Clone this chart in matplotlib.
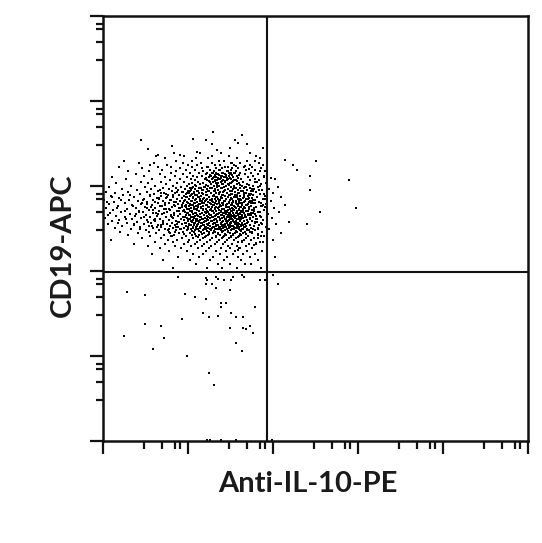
import numpy as np
from matplotlib import pyplot as plt

# Channel values (85 channels per decade, 5 decades)
decades = 5
channelsPerDecade = 85
minorSteps = [3, 5, 7, 8]
xLabel = "Anti-IL-10-PE"
yLabel = "CD19-APC"
gateX = 164
gateY = 169

# Upper population, row by row: CD19 channel, then the IL-10 channels in that row
blobY = [288, 285, 283, 280, 278, 276, 274, 273, 271, 270, 268, 267, 265, 264, 262, 261, 259, 258, 257, 255,
         254, 253, 252, 251, 250, 249, 248, 247, 246, 245, 244, 243, 242, 241, 240, 239, 238, 237, 236, 235,
         234, 233, 232, 231, 230, 229, 228, 227, 226, 225, 224, 223, 222, 221, 220, 219, 218, 217, 216, 215,
         214, 213, 212, 211, 209, 208, 206, 205, 203, 201, 199, 197, 195, 193, 190, 187, 184, 181, 177, 173]
blobX = [
    [71, 97, 118, 147],
    [53, 81, 109, 126, 153],
    [62, 93, 105, 134, 157],
    [21, 73, 89, 116, 121, 144, 152],
    [36, 51, 80, 98, 109, 128, 137, 156],
    [47, 64, 85, 94, 112, 117, 131, 147, 160],
    [16, 55, 68, 89, 104, 105, 122, 125, 141, 149],
    [39, 77, 99, 113, 119, 129, 135, 158],
    [59, 83, 92, 107, 116, 117, 128, 143, 152],
    [25, 46, 73, 100, 111, 124, 125, 133, 162],
    [68, 87, 96, 109, 110, 119, 131, 137, 148],
    [33, 57, 80, 103, 114, 115, 122, 127, 142, 155],
    [41, 72, 90, 99, 108, 118, 119, 126, 134, 150],
    [9, 62, 84, 94, 106, 111, 113, 121, 123, 130, 145, 161],
    [23, 49, 77, 88, 102, 109, 116, 117, 125, 128, 138, 172],
    [67, 92, 104, 112, 114, 120, 124, 131, 133, 147, 156],
    [38, 58, 81, 95, 107, 110, 118, 122, 129, 140, 152],
    [13, 45, 74, 89, 100, 113, 115, 127, 128, 136, 163],
    [63, 86, 97, 108, 119, 120, 125, 134, 144, 158],
    [28, 52, 70, 84, 93, 105, 111, 116, 123, 131, 139, 150],
    [6, 42, 78, 90, 101, 102, 114, 121, 128, 142, 155, 175],
    [60, 73, 87, 96, 109, 118, 119, 133, 137, 147],
    [19, 48, 66, 82, 92, 104, 112, 125, 130, 151, 166],
    [34, 75, 88, 99, 100, 115, 122, 135, 144, 159],
    [55, 69, 85, 94, 106, 111, 127, 139, 140, 148],
    [3, 25, 44, 79, 91, 103, 117, 120, 132, 153],
    [12, 61, 72, 86, 96, 108, 113, 124, 136, 143, 170],
    [37, 51, 83, 89, 100, 116, 128, 129, 146, 157],
    [20, 65, 76, 92, 93, 104, 119, 126, 134, 141, 150],
    [8, 47, 58, 81, 87, 98, 110, 111, 122, 137, 145, 162],
    [31, 70, 84, 95, 106, 114, 125, 131, 132, 154, 178],
    [16, 54, 63, 79, 90, 101, 118, 119, 128, 140, 149],
    [41, 74, 86, 97, 109, 112, 123, 135, 143, 144, 160],
    [1, 26, 50, 68, 82, 92, 103, 107, 117, 127, 138, 152],
    [35, 60, 77, 88, 89, 99, 113, 121, 122, 133, 147, 168],
    [11, 44, 71, 84, 94, 105, 110, 126, 130, 141, 156],
    [22, 55, 66, 80, 91, 101, 116, 119, 129, 136, 137, 150],
    [6, 38, 75, 87, 96, 97, 108, 114, 124, 134, 145, 163],
    [29, 49, 62, 83, 90, 104, 111, 120, 128, 139, 143, 182],
    [15, 57, 72, 86, 93, 100, 117, 118, 131, 135, 148, 158],
    [42, 69, 79, 95, 106, 109, 123, 126, 137, 146, 153],
    [3, 33, 52, 76, 88, 98, 112, 115, 129, 133, 142, 171],
    [24, 61, 84, 91, 92, 103, 119, 121, 127, 140, 151],
    [10, 46, 67, 81, 94, 100, 107, 116, 125, 131, 136, 149, 161],
    [36, 56, 74, 87, 96, 110, 113, 122, 128, 138, 144, 145],
    [18, 40, 64, 82, 89, 102, 105, 118, 124, 134, 139, 155, 176],
    [7, 50, 71, 85, 93, 99, 111, 120, 127, 130, 141, 148],
    [27, 59, 77, 90, 97, 106, 114, 115, 123, 135, 137, 152, 165],
    [43, 68, 83, 86, 101, 108, 118, 126, 131, 142, 146],
    [13, 32, 54, 75, 92, 95, 104, 112, 121, 129, 133, 139, 157],
    [22, 47, 63, 80, 88, 98, 109, 116, 124, 125, 136, 143, 150],
    [2, 38, 70, 84, 91, 102, 107, 119, 128, 132, 140, 147, 169],
    [29, 57, 78, 87, 94, 100, 113, 122, 127, 134, 138, 154],
    [16, 44, 66, 81, 90, 97, 105, 111, 117, 126, 130, 144, 160],
    [9, 52, 73, 85, 93, 103, 109, 120, 123, 133, 137, 141, 149],
    [34, 60, 76, 89, 96, 101, 114, 119, 128, 131, 145, 152, 186],
    [24, 48, 69, 82, 92, 99, 106, 112, 124, 127, 135, 139, 158],
    [5, 41, 64, 79, 86, 95, 104, 110, 118, 122, 132, 136, 142, 173],
    [31, 55, 72, 88, 91, 101, 115, 121, 125, 134, 140, 147, 156],
    [19, 46, 67, 83, 94, 98, 107, 113, 119, 129, 130, 138, 143, 151],
    [37, 58, 75, 85, 93, 102, 111, 117, 123, 127, 136, 141, 163],
    [12, 50, 70, 81, 90, 97, 105, 109, 120, 126, 133, 135, 148, 155],
    [28, 62, 78, 88, 95, 103, 114, 116, 124, 131, 139, 144, 166],
    [43, 56, 73, 84, 92, 100, 108, 118, 122, 128, 137, 146, 152],
    [17, 66, 80, 91, 98, 106, 112, 119, 125, 134, 142, 159],
    [35, 53, 76, 87, 101, 110, 115, 127, 132, 140, 149, 178],
    [25, 61, 71, 89, 96, 105, 117, 123, 130, 138, 155],
    [47, 68, 83, 93, 103, 113, 121, 128, 136, 145, 161],
    [39, 58, 79, 90, 100, 109, 119, 126, 133, 143, 151],
    [8, 65, 74, 86, 97, 107, 116, 124, 131, 141, 148, 170],
    [52, 70, 85, 94, 104, 114, 122, 135, 139, 157],
    [31, 62, 81, 92, 101, 112, 120, 129, 146, 153],
    [45, 72, 88, 99, 108, 125, 134, 143, 164],
    [57, 78, 95, 106, 118, 127, 137, 149],
    [66, 84, 103, 113, 123, 132, 144, 159],
    [49, 90, 100, 117, 130, 140, 152],
    [75, 96, 110, 124, 135, 147, 172],
    [60, 87, 107, 121, 138, 155],
    [93, 115, 127, 142, 148],
    [70, 104, 119, 134, 158],
]

# Second pass over the dense centre, read at the in-between channels
coreY = [268.5, 266.5, 263.5, 260.5, 256.5, 253.5, 250.5, 248.5, 246.5, 244.5, 242.5, 240.5, 238.5, 236.5, 234.5,
         232.5, 230.5, 228.5, 226.5, 224.5, 222.5, 220.5, 218.5, 216.5, 214.5, 212.5, 210.5, 207.5, 204.5]
coreX = [
    [104, 113, 120, 126, 132],
    [107, 112, 116, 123, 129, 136],
    [103, 110, 115, 118, 124, 127, 135],
    [106, 112, 119, 122, 130, 134],
    [92, 103, 114, 126, 137, 146],
    [89, 98, 107, 118, 131, 141],
    [87, 95, 105, 112, 121, 129, 138, 150],
    [84, 91, 99, 108, 116, 124, 135, 143],
    [88, 94, 103, 111, 120, 127, 132, 147],
    [83, 90, 96, 106, 113, 118, 125, 134, 141],
    [86, 93, 100, 104, 115, 123, 129, 137, 145],
    [81, 89, 97, 102, 109, 116, 121, 130, 136, 142],
    [85, 92, 99, 107, 112, 120, 126, 133, 139, 148],
    [79, 88, 95, 103, 110, 117, 123, 129, 135, 144],
    [83, 91, 98, 105, 113, 116, 125, 132, 138, 141],
    [86, 94, 100, 108, 112, 120, 127, 130, 136, 146],
    [80, 89, 96, 104, 109, 118, 124, 129, 134, 140, 143],
    [84, 92, 99, 103, 111, 116, 122, 126, 133, 137, 150],
    [87, 94, 101, 107, 113, 119, 125, 128, 135, 139, 145],
    [82, 90, 97, 105, 110, 115, 121, 127, 131, 138, 142],
    [85, 93, 99, 104, 112, 117, 123, 129, 134, 136, 147],
    [88, 95, 102, 108, 114, 120, 125, 130, 137, 141],
    [83, 91, 98, 106, 111, 118, 124, 128, 133, 139, 144],
    [86, 94, 100, 105, 113, 119, 122, 127, 135, 138],
    [90, 97, 103, 110, 116, 121, 126, 131, 134, 142],
    [85, 93, 101, 107, 112, 118, 124, 129, 136, 140],
    [89, 96, 104, 111, 120, 125, 133, 138],
    [92, 99, 106, 115, 122, 130, 137, 143],
    [95, 102, 113, 120, 128, 135],
]

# Clumps around the edges of the population, left flank and right flank
fringeX = [4, 5, 9, 14, 15, 18, 22, 23, 27, 30, 31, 33, 40, 41, 44, 45, 47, 52, 53, 54, 56, 57, 59, 60, 63, 64,
           66, 67, 69, 71, 72, 74, 75, 77, 43, 44, 50, 51, 56, 58, 61, 62, 65, 68, 70, 73, 76, 78, 79, 81,
           48, 49, 55, 57, 60, 63, 64, 67, 71, 73, 74, 77, 80, 82, 36, 37, 39, 46, 52, 58, 66, 69,
           146, 148, 151, 152, 154, 155, 157, 158, 160, 161, 147, 150, 153, 156, 159, 162, 149, 151, 155, 158,
           160, 163, 145, 148, 152, 154, 157, 161, 146, 149, 153, 156, 159, 162, 150, 154, 158, 147, 152, 160,
           143, 149, 155, 161, 144, 151, 157, 141, 146, 153, 133, 139, 128, 136, 142, 121, 129, 135, 116, 124]
fringeY = [239.5, 226.5, 244.5, 233.5, 218.5, 241.5, 230.5, 222.5, 246.5, 235.5, 217.5, 227.5, 241.5, 224.5, 233.5, 219.5, 246.5, 239.5, 228.5, 214.5, 243.5, 222.5, 235.5, 217.5, 247.5, 229.5,
           212.5, 241.5, 224.5, 236.5, 209.5, 249.5, 219.5, 233.5, 226.5, 237.5, 231.5, 221.5, 242.5, 216.5, 228.5, 238.5, 211.5, 225.5, 246.5, 214.5, 230.5, 222.5, 243.5, 207.5,
           234.5, 215.5, 227.5, 251.5, 220.5, 232.5, 244.5, 208.5, 226.5, 239.5, 217.5, 212.5, 249.5, 235.5, 229.5, 212.5, 238.5, 209.5, 222.5, 248.5, 232.5, 205.5,
           239.5, 226.5, 233.5, 218.5, 244.5, 212.5, 229.5, 238.5, 221.5, 247.5, 209.5, 241.5, 225.5, 216.5, 235.5, 242.5, 252.5, 230.5, 207.5, 224.5,
           236.5, 214.5, 227.5, 247.5, 238.5, 219.5, 255.5, 231.5, 243.5, 209.5, 222.5, 251.5, 217.5, 234.5, 212.5, 259.5, 205.5, 227.5,
           262.5, 199.5, 254.5, 240.5, 203.5, 265.5, 211.5, 196.5, 270.5, 248.5, 272.5, 198.5, 275.5, 200.5, 268.5, 193.5, 275.5, 205.5, 278.5, 191.5]

# Scattered dots outside the main rows
sparseX = [110, 38, 139, 132, 90, 103, 135, 69, 45, 109, 160, 144, 127, 114, 94, 77, 55,
           213, 207, 207, 246, 253, 217, 204, 194, 190, 182, 168,
           24, 42, 75, 82, 92, 103, 104, 103, 109, 113, 115, 113, 121, 128, 130, 139, 141, 127, 157, 162, 170, 175,
           103, 118, 123, 118, 152, 100, 106, 115, 128, 133, 140, 79, 42, 58, 127, 140, 143, 147, 150, 21, 61, 133,
           50, 139, 84, 106, 111, 104, 107, 118, 133, 169]
sparseY = [309, 301, 306, 301, 302, 301, 298, 295, 292, 297, 293, 297, 293, 291, 289, 286, 286,
           280, 265, 251, 261, 233, 229, 217, 271, 276, 281, 263,
           149, 146, 164, 147, 144, 163, 161, 157, 157, 164, 162, 153, 161, 161, 164, 166, 164, 151, 161, 161, 166, 157,
           142, 138, 138, 134, 134, 128, 124, 125, 128, 124, 124, 122, 117, 115, 113, 113, 112, 115, 108, 105, 103, 98,
           92, 90, 85, 68, 56, 1, 1, 1, 1, 1]

xPoints = []
yPoints = []
for i in range(0, len(blobY)):
    for x in blobX[i]:
        xPoints.append(x)
        yPoints.append(blobY[i])
for i in range(0, len(coreY)):
    for x in coreX[i]:
        xPoints.append(x)
        yPoints.append(coreY[i])
n = min(len(fringeX), len(fringeY))
xPoints += fringeX[:n]
yPoints += fringeY[:n]
xPoints += sparseX
yPoints += sparseY

fig = plt.figure(figsize=(5.42, 5.43), dpi=100)
ax = fig.add_axes([103 / 542, 1 - 441 / 543, 425 / 542, 425 / 543])

ax.scatter(xPoints, yPoints, marker='s', s=2.6, linewidths=0, color='#000000')
ax.axvline(gateX, color='#111111', lw=1.5)
ax.axhline(gateY, color='#111111', lw=1.5)

limit = decades * channelsPerDecade
majors = [d * channelsPerDecade for d in range(0, decades + 1)]
minors = []
for d in range(0, decades):
    for m in minorSteps:
        minors.append((d + np.log10(m)) * channelsPerDecade)

ax.set_xlim(0, limit)
ax.set_ylim(0, limit)
ax.set_xticks(majors)
ax.set_yticks(majors)
ax.set_xticks(minors, minor=True)
ax.set_yticks(minors, minor=True)
ax.tick_params(which='major', length=9.4, width=1.6, color='#111111', labelbottom=False, labelleft=False)
ax.tick_params(which='minor', length=5.4, width=1.6, color='#111111')
for side in ax.spines:
    ax.spines[side].set_linewidth(1.8)
    ax.spines[side].set_color('#111111')

hfont = {'family': 'Lato', 'fontweight': 'bold', 'fontsize': 21, 'color': '#1a1a1a'}
fig.text(308 / 542, 1 - 484 / 543, xLabel, ha='center', va='center', **hfont)
fig.text(63 / 542, 1 - 245 / 543, yLabel, ha='center', va='center', rotation=90, **hfont)

plt.savefig("out.png", dpi=100)
plt.clf()
